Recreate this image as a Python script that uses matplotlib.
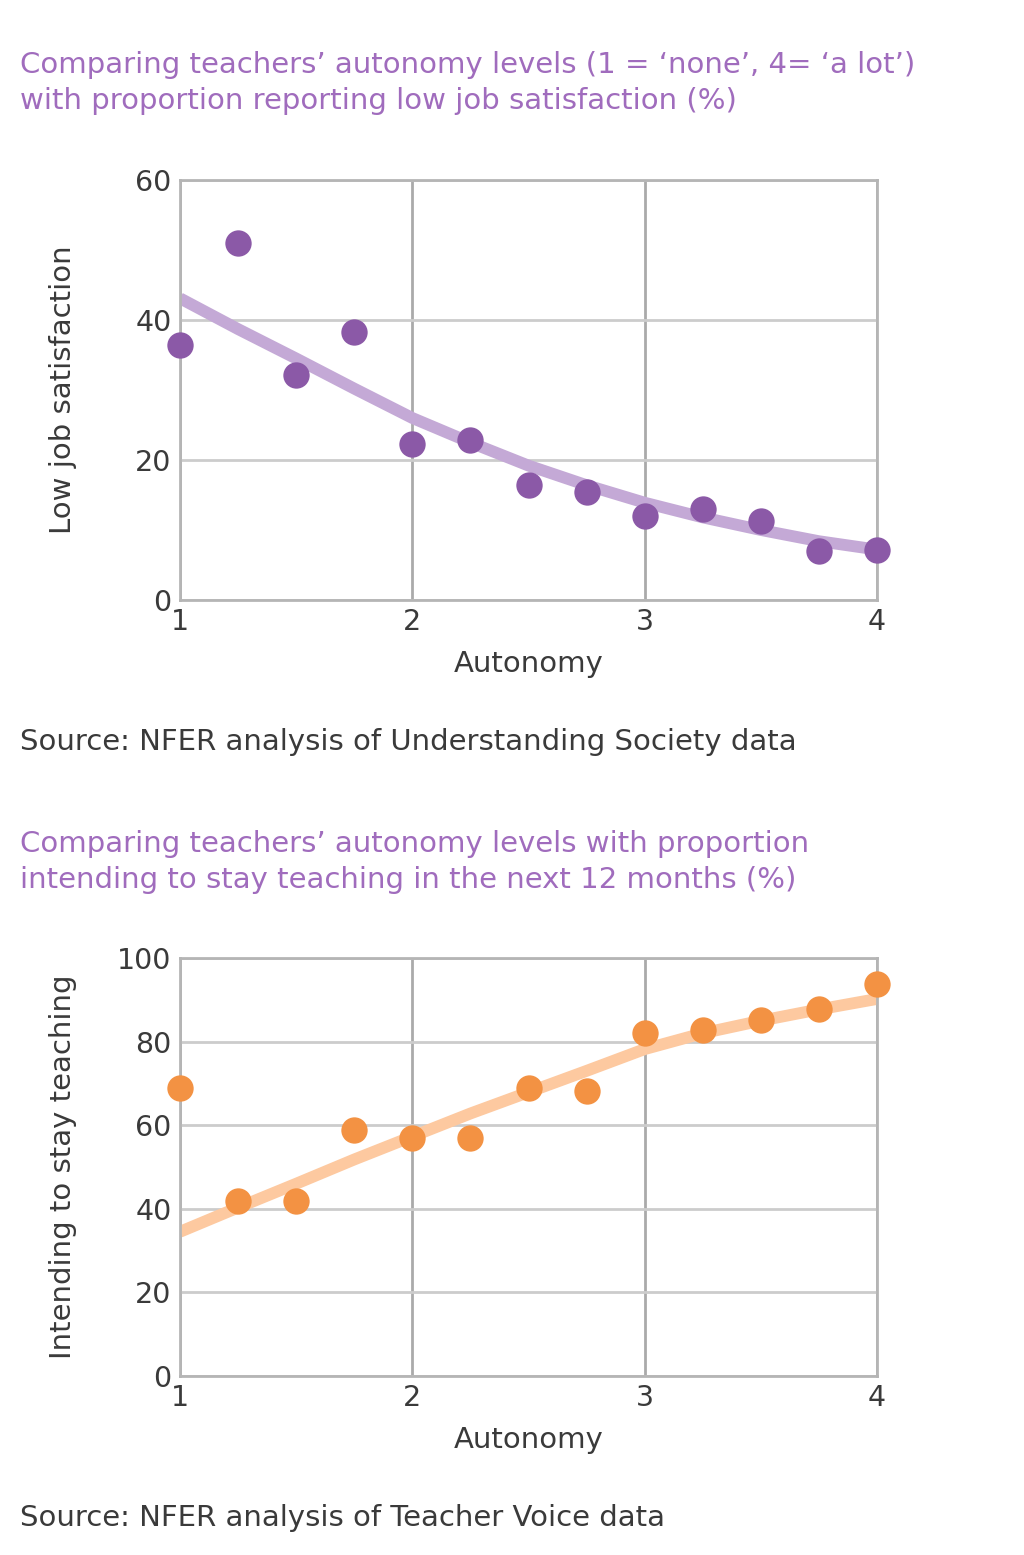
import numpy as np
import matplotlib
matplotlib.use('Agg')
import matplotlib.pyplot as plt

plt.rcParams['font.family'] = ['DejaVu Sans']

# autonomy levels on the x axis
autonomy = [1.0, 1.25, 1.5, 1.75, 2.0, 2.25, 2.5, 2.75, 3.0, 3.25, 3.5, 3.75, 4.0]
# % reporting low job satisfaction
low_satisfaction = [36.4, 51.0, 32.1, 38.3, 22.3, 22.9, 16.4, 15.4, 12.0, 13.0, 11.3, 7.0, 7.1]
# trend line as drawn in the source, read at the same x steps
low_trend = [43.1, 38.7, 34.5, 30.2, 26.0, 22.5, 19.2, 16.4, 13.9, 11.8, 10.0, 8.4, 7.2]
# % intending to stay teaching in the next 12 months
stay_teaching = [68.9, 41.9, 41.9, 58.9, 56.9, 56.9, 68.9, 68.2, 82.0, 82.8, 85.2, 87.8, 93.8]
stay_trend = [34.5, 40.3, 46.0, 51.8, 57.3, 62.8, 67.9, 73.0, 78.2, 82.0, 85.0, 87.7, 90.2]

title1 = "Comparing teachers\u2019 autonomy levels (1 = \u2018none\u2019, 4= \u2018a lot\u2019)\nwith proportion reporting low job satisfaction (%)"
title2 = "Comparing teachers\u2019 autonomy levels with proportion\nintending to stay teaching in the next 12 months (%)"
source1 = "Source: NFER analysis of Understanding Society data"
source2 = "Source: NFER analysis of Teacher Voice data"

W, H = 1024, 1555
fig = plt.figure(figsize=(W / 100, H / 100), dpi=100)

title_col = '#a06cbd'
text_col = '#3a3a3a'
FS = 21


def draw_panel(rect, y, trend, ymax, yticks, ylabel, dot_col, line_col):
    ax = fig.add_axes(rect)
    ax.plot(autonomy, trend, color=line_col, lw=8.5, solid_capstyle='butt',
            solid_joinstyle='round', zorder=2)
    ax.scatter(autonomy, y, s=360, color=dot_col, zorder=3, clip_on=False, linewidths=0)
    ax.set_xlim(1, 4)
    ax.set_ylim(0, ymax)
    ax.set_xticks([1, 2, 3, 4])
    ax.set_yticks(yticks)
    ax.yaxis.grid(True, color='#cccccc', lw=2)
    ax.xaxis.grid(True, color='#aaaaaa', lw=2)
    ax.set_axisbelow(True)
    for s in ax.spines.values():
        s.set_color('#b5b5b5')
        s.set_linewidth(2)
    ax.tick_params(length=0, labelsize=FS - 0.5, colors=text_col, pad=6)
    ax.set_xlabel('Autonomy', fontsize=FS, color=text_col, labelpad=10)
    ax.set_ylabel(ylabel, fontsize=FS, color=text_col, va='center')
    ax.yaxis.set_label_coords(-117 / 697, 0.5)
    return ax


draw_panel([180 / W, 1 - 600 / H, 697 / W, 420 / H], low_satisfaction, low_trend, 60,
           [0, 20, 40, 60], 'Low job satisfaction', '#8b59a7', '#c4a9d6')
draw_panel([180 / W, 1 - 1376 / H, 697 / W, 418 / H], stay_teaching, stay_trend, 100,
           [0, 20, 40, 60, 80, 100], 'Intending to stay teaching', '#f39243', '#fdc9a0')

fig.text(20 / W, 1 - 83 / H, title1, fontsize=FS, color=title_col, va='center', linespacing=1.35)
fig.text(20 / W, 1 - 742 / H, source1, fontsize=FS, color=text_col, va='center')
fig.text(20 / W, 1 - 862 / H, title2, fontsize=FS, color=title_col, va='center', linespacing=1.35)
fig.text(20 / W, 1 - 1518 / H, source2, fontsize=FS, color=text_col, va='center')

fig.savefig('out.png', dpi=100, facecolor='white')
